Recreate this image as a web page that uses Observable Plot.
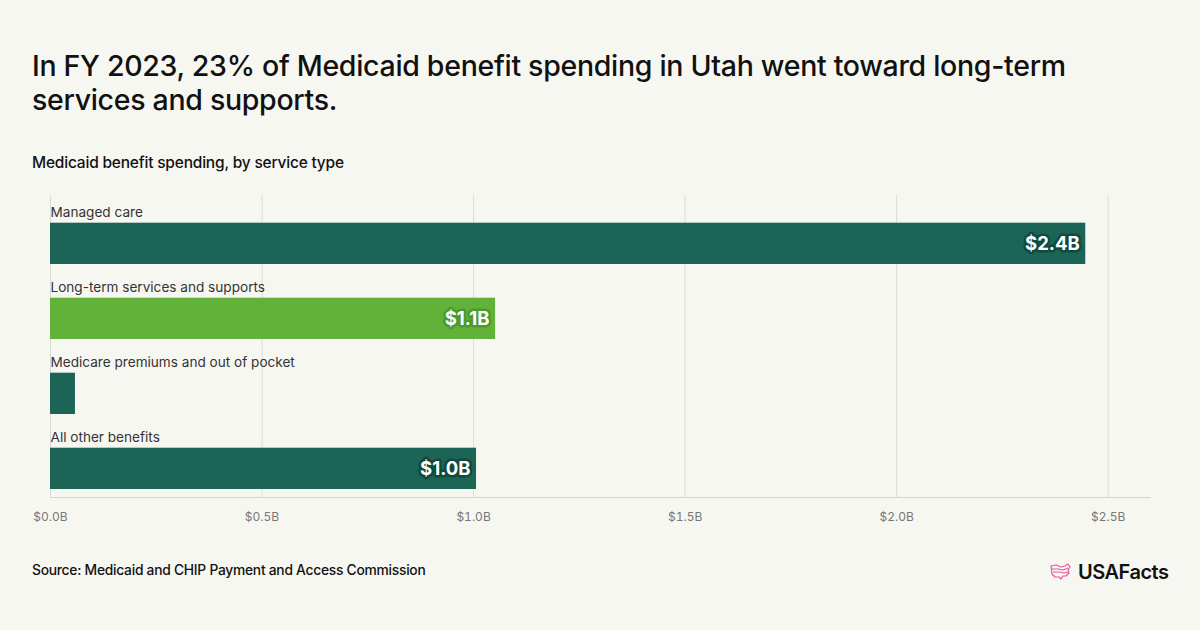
<!DOCTYPE html>
<html>
<head>
<meta charset="utf-8">
<script src="https://cdn.jsdelivr.net/npm/d3@7"></script>
<script src="https://cdn.jsdelivr.net/npm/@observablehq/plot@0.6"></script>
<style>
  html, body { margin: 0; padding: 0; background: #f7f7f2; }
  #wrap { position: relative; width: 1200px; height: 630px; background: #f7f7f2; font-family: Inter, "Noto Sans", sans-serif; color: #111; overflow: hidden; }
  #title { position: absolute; left: 32px; top: 49px; width: 1080px; font-size: 28.5px; font-weight: 500; line-height: 34px; letter-spacing: -0.3px; }
  #subtitle { position: absolute; left: 32px; top: 153px; font-size: 15.5px; font-weight: 500; letter-spacing: -0.2px; }
  #chart { position: absolute; left: 0; top: 180px; }
  #source { position: absolute; left: 32px; top: 562px; font-size: 13.8px; font-weight: 500; letter-spacing: -0.25px; }
  #logo { position: absolute; left: 1050px; top: 560px; display: flex; align-items: center; gap: 6px; }
  #logo span { font-size: 20px; font-weight: 600; letter-spacing: -0.5px; color: #111; }
</style>
</head>
<body>
<div id="wrap">
  <div id="title">In FY 2023, 23% of Medicaid benefit spending in Utah went toward long-term<br>services and supports.</div>
  <div id="subtitle">Medicaid benefit spending, by service type</div>
  <div id="chart"></div>
  <div id="source">Source: Medicaid and CHIP Payment and Access Commission</div>
  <div id="logo">
    <svg width="22" height="18" viewBox="0 0 22 18" fill="none" stroke="#e8579b" stroke-width="1.2" stroke-linejoin="round">
      <path d="M1 3 L6 2 L11 4 L15 3 L18 1 L20 4 L18 7 L19 10 L16 13 L13 13 L11 16 L9 14 L5 14 L2 11 Z"/>
      <path d="M2 6 L8 6 L13 7 L18 5"/>
      <path d="M3 9 L9 9 L14 10 L18 9"/>
    </svg>
    <span>USAFacts</span>
  </div>
</div>
<script>
const categories = ["Managed care", "Long-term services and supports", "Medicare premiums and out of pocket", "All other benefits"];
const values = [2.447, 1.052, 0.059, 1.007];
const barColors = ["#1b6456", "#62b23a", "#1b6456", "#1b6456"];
const haloColors = ["#0f4a3e", "#4c9a28", "#0f4a3e", "#0f4a3e"];
const tickValues = [0, 0.5, 1.0, 1.5, 2.0, 2.5];
const tickLabels = ["$0.0B", "$0.5B", "$1.0B", "$1.5B", "$2.0B", "$2.5B"];

const data = categories.map((c, i) => ({category: c, value: values[i], color: barColors[i], halo: haloColors[i]}));
const fmt = v => "$" + d3.format(".1f")(v) + "B";

const chart = Plot.plot({
  width: 1200,
  height: 360,
  marginLeft: 50,
  marginRight: 50,
  marginTop: 15,
  marginBottom: 43,
  style: {background: "transparent", fontFamily: "Inter, 'Noto Sans', sans-serif"},
  x: {domain: [0, 2.6], label: null},
  y: {domain: categories, range: [7.3, 310.1], padding: 0, axis: null},
  marks: [
    Plot.ruleX(tickValues, {stroke: "#dcdcd6", strokeWidth: 1}),
    Plot.frame({anchor: "bottom", stroke: "#d6d6d0"}),
    Plot.axisX({ticks: tickValues, tickFormat: (d) => tickLabels[tickValues.indexOf(d)], tickSize: 0, tickPadding: 15, fontSize: 12, fill: "#777", label: null}),
    Plot.barX(data, {y: "category", x: "value", fill: d => d.color, insetTop: 33.7, insetBottom: 0}),
    Plot.text(data, {y: "category", x: 0, text: "category", textAnchor: "start", lineAnchor: "bottom", dy: -10, fontSize: 13.6, fill: "#333", letterSpacing: "-0.1px"}),
    Plot.text(data.filter(d => d.value >= 0.5), {y: "category", x: "value", text: d => fmt(d.value), textAnchor: "end", lineAnchor: "middle", dx: -6, dy: 17, fontSize: 18.5, fontWeight: 700, fill: "white", stroke: d => d.halo, strokeWidth: 5, strokeLinejoin: "round", paintOrder: "stroke", letterSpacing: "-0.3px"})
  ]
});
document.getElementById("chart").appendChild(chart);
</script>
</body>
</html>
